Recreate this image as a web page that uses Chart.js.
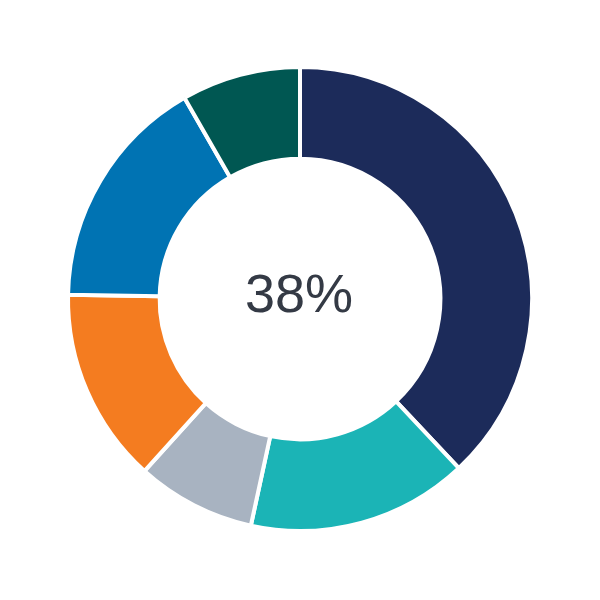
<!DOCTYPE html>
<html>
<head>
<meta charset="utf-8">
<script src="https://cdn.jsdelivr.net/npm/chart.js@4.4.1/dist/chart.umd.min.js"></script>
<style>
  html, body { margin: 0; padding: 0; background: #fff; }
  #wrap { width: 600px; height: 600px; }
</style>
</head>
<body>
<div id="wrap"><canvas id="chart" width="600" height="600"></canvas></div>
<script>
// slices, clockwise from 12 o'clock (percent)
const labels = ['Segment 1', 'Segment 2', 'Segment 3', 'Segment 4', 'Segment 5', 'Segment 6'];
const values = [38, 15.4, 8.3, 13.6, 16.4, 8.3];
const colors = ['#1c2b5a', '#1bb4b6', '#a8b3c1', '#f47c20', '#0073b3', '#005752'];
const centerLabel = '38%';

// draws the big number in the hole
const centerText = {
  id: 'centerText',
  afterDraw(chart) {
    const arc = chart.getDatasetMeta(0).data[0];
    if (!arc) return;
    const ctx = chart.ctx;
    ctx.save();
    ctx.font = '54px "Liberation Sans", Arial, sans-serif';
    ctx.fillStyle = '#343a45';
    ctx.textAlign = 'center';
    ctx.textBaseline = 'middle';
    ctx.fillText(centerLabel, arc.x - 1, arc.y - 2);
    ctx.restore();
  }
};

new Chart(document.getElementById('chart'), {
  type: 'doughnut',
  data: {
    labels: labels,
    datasets: [{
      data: values,
      backgroundColor: colors,
      borderColor: '#ffffff',
      borderWidth: 4
    }]
  },
  options: {
    responsive: false,
    animation: false,
    cutout: '60.5%',
    layout: { padding: { top: 64, bottom: 66, left: 66, right: 66 } },
    plugins: {
      legend: { display: false },
      tooltip: { enabled: false }
    }
  },
  plugins: [centerText]
});
</script>
</body>
</html>
